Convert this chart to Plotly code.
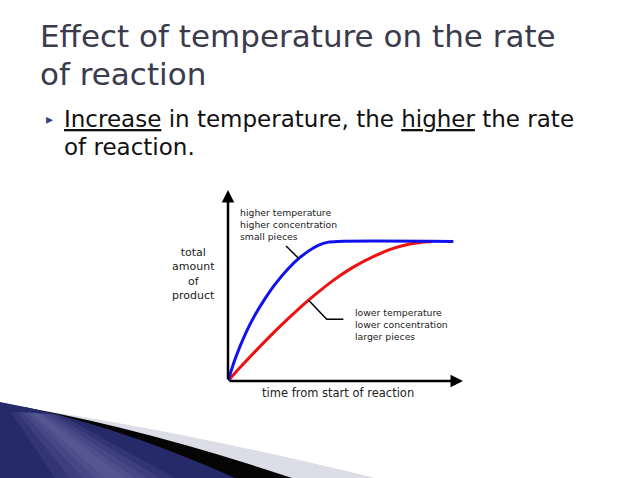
import plotly.graph_objects as go

W, H = 638, 478

# reaction curves (time units, amount units)
fast_time = [0, 0.31, 0.74, 1.16, 1.59, 2.00, 2.57, 2.99, 3.42, 3.84, 4.27, 4.70, 9.59]
fast_amount = [0, 1.18, 2.47, 3.48, 4.34, 5.06, 5.89, 6.39, 6.80, 7.10, 7.27, 7.31, 7.31]

slow_time = [0, 0.60, 1.16, 1.73, 2.30, 3.15, 3.63, 4.48, 5.33, 6.18, 7.03, 7.74, 8.46, 8.68]
slow_amount = [0, 0.82, 1.55, 2.27, 2.96, 3.93, 4.44, 5.27, 5.96, 6.51, 6.94, 7.17, 7.29, 7.31]

fast_label = ["higher temperature", "higher concentration", "small pieces"]
slow_label = ["lower temperature", "lower concentration", "larger pieces"]
y_title = ["total", "amount", "of", "product"]
x_title = "time from start of reaction"


def px(x, y):
    return x / W, 1 - y / H


x0, y0 = px(228, 381)
x1, y1 = px(463, 190)

fig = go.Figure()
fig.add_trace(go.Scatter(x=slow_time, y=slow_amount, mode="lines",
                         line=dict(color="#ee1111", width=3, shape="spline", smoothing=0.8),
                         hoverinfo="skip"))
fig.add_trace(go.Scatter(x=fast_time, y=fast_amount, mode="lines",
                         line=dict(color="#1111ee", width=3, shape="spline", smoothing=0.8),
                         hoverinfo="skip"))

fig.update_layout(
    width=W, height=H,
    margin=dict(l=0, r=0, t=0, b=0),
    paper_bgcolor="white", plot_bgcolor="rgba(0,0,0,0)",
    showlegend=False,
    xaxis=dict(domain=[x0, x1], range=[0, 10], visible=False, fixedrange=True),
    yaxis=dict(domain=[y0, y1], range=[0, 10], visible=False, fixedrange=True),
)

# axes drawn as arrows
for ax_tip, ay_tip in [(10, 0), (0, 10)]:
    fig.add_annotation(x=ax_tip, y=ay_tip, ax=0, ay=0, xref="x", yref="y",
                       axref="x", ayref="y", text="", showarrow=True,
                       arrowhead=2, arrowsize=1, arrowwidth=2.5, arrowcolor="black")

# leader lines to the curves
fig.add_shape(type="line", xref="x", yref="y", x0=2.47, y0=7.07, x1=3.02, y1=6.40,
              line=dict(color="black", width=1.5))
fig.add_shape(type="path", xref="x", yref="y", path="M 3.42,4.24 L 4.20,3.23 L 4.91,3.23",
              line=dict(color="black", width=1.5))

font_small = dict(family="DejaVu Sans", size=9.3, color="#222222")
fx, fy = px(238, 205)
fig.add_annotation(x=fx, y=fy, xref="paper", yref="paper", xanchor="left", yanchor="top",
                   text="<br>".join(fast_label), showarrow=False, align="left", font=font_small)
sx, sy = px(353, 305)
fig.add_annotation(x=sx, y=sy, xref="paper", yref="paper", xanchor="left", yanchor="top",
                   text="<br>".join(slow_label), showarrow=False, align="left", font=font_small)

ly, lyy = px(193, 244)
fig.add_annotation(x=ly, y=lyy, xref="paper", yref="paper", xanchor="center", yanchor="top",
                   text="<br>".join(y_title), showarrow=False, align="center",
                   font=dict(family="DejaVu Sans", size=11, color="#222222"))
lx, lxy = px(338, 393)
fig.add_annotation(x=lx, y=lxy, xref="paper", yref="paper", xanchor="center", yanchor="middle",
                   text=x_title, showarrow=False,
                   font=dict(family="DejaVu Sans", size=11.5, color="#222222"))

# slide heading and bullet text
title_font = dict(family="DejaVu Sans", size=31, color="#3b3b4d")
for txt, yy in [("Effect of temperature on the rate", 36), ("of reaction", 74)]:
    tx, ty = px(38, yy)
    fig.add_annotation(x=tx, y=ty, xref="paper", yref="paper", xanchor="left", yanchor="middle",
                       text=txt, showarrow=False, font=title_font)

body_font = dict(family="DejaVu Sans", size=23, color="#111111")
for txt, yy in [("<u>Increase</u> in temperature, the <u>higher</u> the rate", 119),
                ("of reaction.", 147)]:
    tx, ty = px(62, yy)
    fig.add_annotation(x=tx, y=ty, xref="paper", yref="paper", xanchor="left", yanchor="middle",
                       text=txt, showarrow=False, font=body_font)
bx, by = px(49, 119)
fig.add_annotation(x=bx, y=by, xref="paper", yref="paper", xanchor="center", yanchor="middle",
                   text="▸", showarrow=False,
                   font=dict(family="DejaVu Sans", size=14, color="#3b3e7d"))


# decorative swoosh in the lower left corner
def swoosh(points):
    a, b, c, d = [px(*p) for p in points]
    return (f"M {a[0]},{a[1]} Q {b[0]},{b[1]} {c[0]},{c[1]} "
            f"L {d[0]},{d[1]} Z")


def poly(points):
    pts = [px(*p) for p in points]
    return "M " + " L ".join(f"{a},{b}" for a, b in pts) + " Z"


deco = [
    ([(0, 404), (170, 428), (375, 478), (0, 478)], "#dcdde6"),
    ([(0, 403), (130, 424), (292, 478), (0, 478)], "#050505"),
    ([(0, 402), (110, 422), (235, 478), (0, 478)], "#272a68"),
]
for pts, col in deco:
    fig.add_shape(type="path", xref="paper", yref="paper", path=swoosh(pts),
                  fillcolor=col, line=dict(width=0), layer="below")
# soft lighter streak across the blue part
for half in [60, 45, 32, 20, 10]:
    band = [(35 - half * 0.4, 412), (35 + half * 0.4, 414),
            (115 + half, 478), (115 - half, 478)]
    fig.add_shape(type="path", xref="paper", yref="paper", path=poly(band),
                  fillcolor="#8a8dc4", opacity=0.12, line=dict(width=0), layer="below")

fig.write_html("out.html", config={"displayModeBar": False},
               post_script="document.body.style.margin='0';document.body.style.overflow='hidden';")
